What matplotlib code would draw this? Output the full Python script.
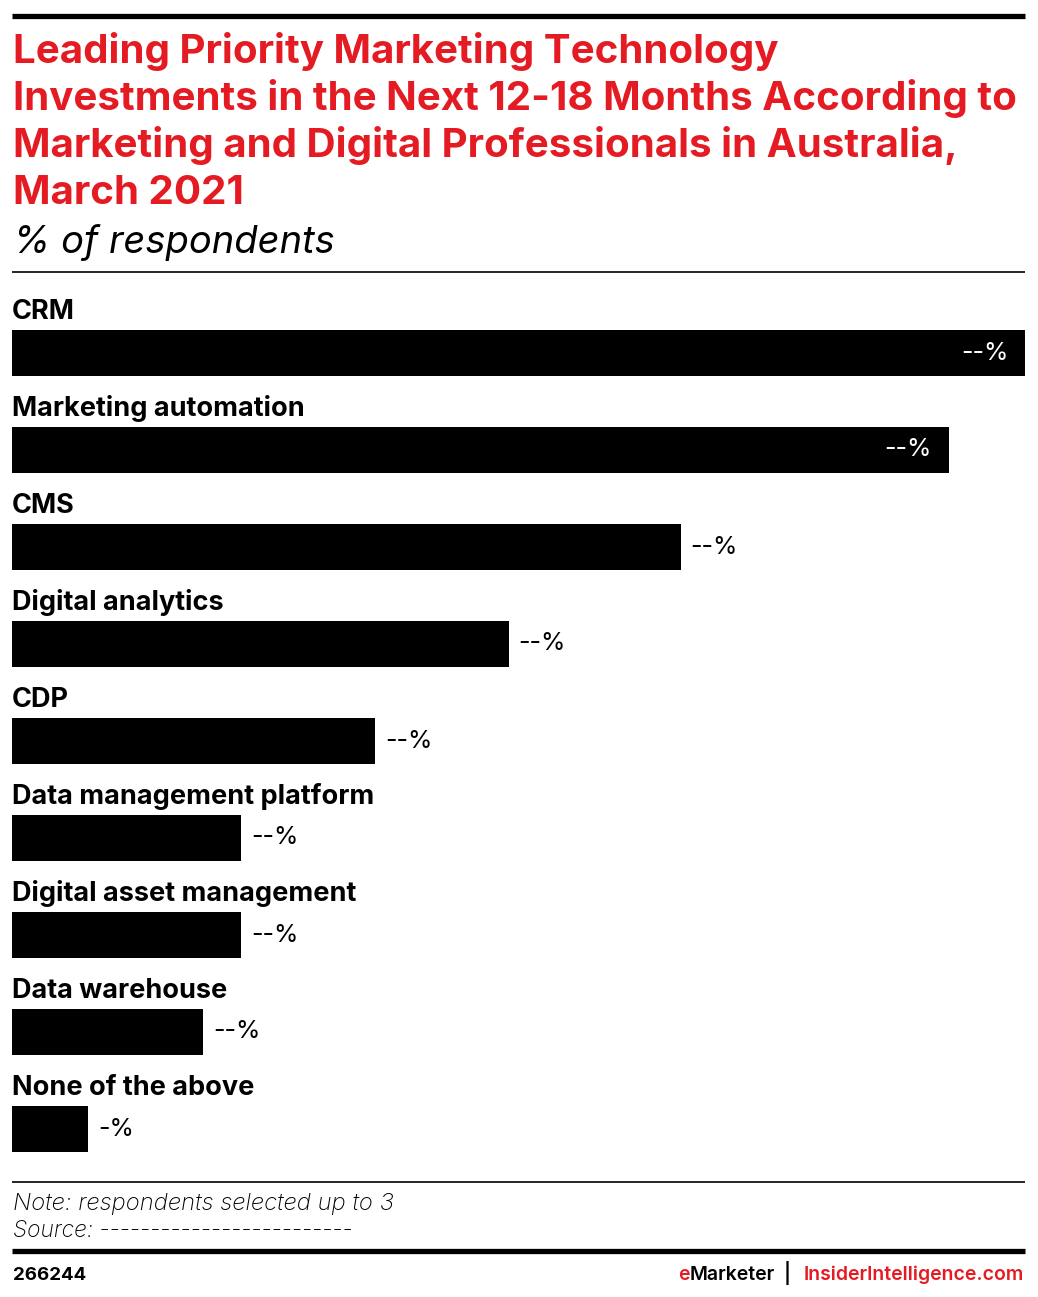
import matplotlib
matplotlib.use("Agg")
import matplotlib.pyplot as plt
from matplotlib.lines import Line2D

categories = ["CRM", "Marketing automation", "CMS", "Digital analytics", "CDP",
              "Data management platform", "Digital asset management",
              "Data warehouse", "None of the above"]
values = [53, 49, 35, 26, 19, 12, 12, 10, 4]
value_labels = ["--%", "--%", "--%", "--%", "--%", "--%", "--%", "--%", "-%"]

title_lines = ["Leading Priority Marketing Technology",
               "Investments in the Next 12-18 Months According to",
               "Marketing and Digital Professionals in Australia,",
               "March 2021"]
subtitle = "% of respondents"
note = "Note: respondents selected up to 3"
source = "Source: -------------------------"
chart_id = "266244"

RED = "#E41B23"
W, H = 1038, 1297
FONT = "Inter"

fig = plt.figure(figsize=(W / 100, H / 100), dpi=100)
renderer = fig.canvas.get_renderer()

def fy(px):
    return 1 - px / H

def fx(px):
    return px / W

def hline(y, lw, x0=12, x1=1025):
    fig.add_artist(Line2D([fx(x0), fx(x1)], [fy(y), fy(y)], color="black",
                          linewidth=lw, solid_capstyle="butt"))

def fit(t, width_px):
    w = t.get_window_extent(renderer).width
    t.set_fontsize(t.get_fontsize() * width_px / w)

hline(15.5, 3.8)
for i, line in enumerate(title_lines):
    fig.text(fx(13), fy(63 + 47 * i), line, color=RED, fontsize=29,
             fontweight="bold", family=FONT, va="baseline", ha="left")
st = fig.text(fx(13), fy(253), subtitle, fontsize=24, style="italic",
              fontweight="normal", family=FONT, va="baseline", ha="left")
fit(st, 322)
hline(271.5, 1.2)

# bar area
top_px, bot_px = 290, 1165
row0, step = 353, 97
ax = fig.add_axes([fx(12), fy(bot_px), fx(1025) - fx(12), (bot_px - top_px) / H])
ax.set_xlim(0, values[0])
ax.set_ylim((bot_px - row0) / step, (top_px - row0) / step)
ax.axis("off")
ys = list(range(len(categories)))
bh = 46 / step
ax.barh(ys, values, height=bh, color="black")
for y, cat, v, lab in zip(ys, categories, values, value_labels):
    ax.text(0.01, y - 34 / step, cat, fontsize=19.5, fontweight="bold",
            family=FONT, va="baseline", ha="left")
    if v > 45:
        ax.annotate(lab, (v, y), xytext=(-12, 0), textcoords="offset points",
                    color="white", fontsize=18, family=FONT, va="center", ha="right")
    else:
        ax.annotate(lab, (v, y), xytext=(7, 0), textcoords="offset points",
                    color="black", fontsize=18, family=FONT, va="center", ha="left")

hline(1181.5, 1.2)
nt = fig.text(fx(13), fy(1210), note, fontsize=16, style="italic", fontweight="light",
              family=FONT, va="baseline", ha="left")
fit(nt, 380)
so = fig.text(fx(13), fy(1237), source, fontsize=nt.get_fontsize(), style="italic",
              fontweight="light", family=FONT, va="baseline", ha="left")
fit(so, 341)
hline(1250.5, 3.8)
fig.text(fx(13), fy(1280), chart_id, fontsize=13.5, fontweight="bold",
         family=FONT, va="baseline", ha="left")

# right footer
t3 = fig.text(fx(1024), fy(1280), "InsiderIntelligence.com", color=RED, fontsize=14,
              fontweight="semibold", family=FONT, va="baseline", ha="right")
bb = t3.get_window_extent(renderer)
x_sep = bb.x0 - 17
fig.text(x_sep / W, fy(1280), "|", fontsize=14, family=FONT, va="baseline",
         ha="center", fontweight="semibold")
t1 = fig.text((x_sep - 12) / W, fy(1280), "Marketer", fontsize=14,
              fontweight="semibold", family=FONT, va="baseline", ha="right")
bb1 = t1.get_window_extent(renderer)
fig.text(bb1.x0 / W, fy(1280), "e", color=RED, fontsize=14, fontweight="semibold",
         family=FONT, va="baseline", ha="right")

fig.savefig("out.png", dpi=100)
